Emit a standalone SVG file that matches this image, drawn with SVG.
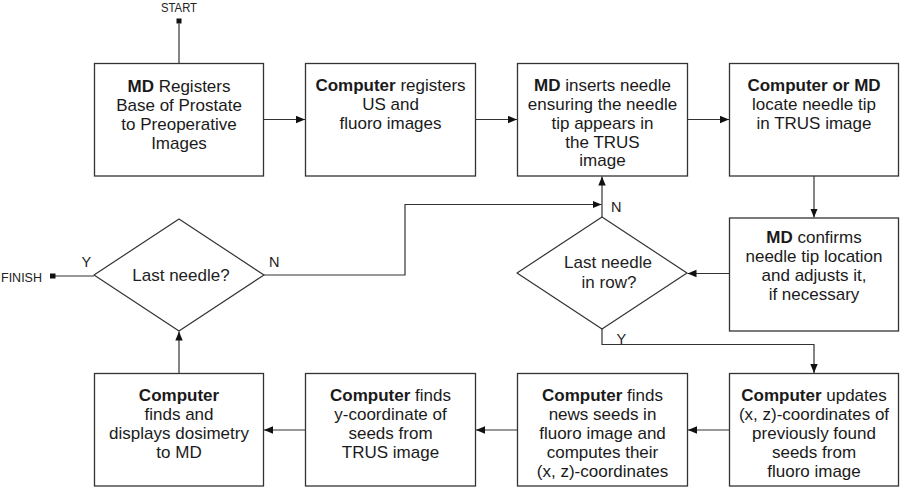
<svg xmlns="http://www.w3.org/2000/svg" width="901" height="489" viewBox="0 0 901 489">
<style>
.box{fill:#fff;stroke:#333;stroke-width:1.3}
.dia{fill:#fff;stroke:#333;stroke-width:1.2;stroke-linejoin:round}
.t{font-family:"Liberation Sans",Arial,sans-serif;font-size:17px;fill:#1a1a1a;text-anchor:middle}
.b{font-weight:bold}
.dt{font-family:"Liberation Sans",Arial,sans-serif;font-size:17px;fill:#222;text-anchor:middle}
.lbl{font-family:"Liberation Sans",Arial,sans-serif;font-size:14.5px;fill:#222}
.term{font-family:"Liberation Sans",Arial,sans-serif;font-size:12.5px;fill:#222}
.c{fill:none;stroke:#333;stroke-width:1.2}
.sq{fill:#111}
</style>
<defs>
<marker id="ah" markerUnits="userSpaceOnUse" markerWidth="10" markerHeight="9" refX="9" refY="4" orient="auto">
<path d="M0,0.3 L9,4 L0,7.7 z" fill="#111"/>
</marker>
</defs>
<rect width="901" height="489" fill="#fff"/>
<g id="connectors">
<rect class="sq" x="176.5" y="18.5" width="5" height="5"/>
<path class="c" d="M179,23.5 V63.5"/>
<path class="c" d="M263.5,119.5 H305" marker-end="url(#ah)"/>
<path class="c" d="M475.5,119.5 H517" marker-end="url(#ah)"/>
<path class="c" d="M687.5,119.5 H729" marker-end="url(#ah)"/>
<path class="c" d="M814,176 V217.5" marker-end="url(#ah)"/>
<path class="c" d="M729.5,273.5 H687.5" marker-end="url(#ah)"/>
<path class="c" d="M602,217 V176.5" marker-end="url(#ah)"/>
<path class="c" d="M264,275 H405 V204.5 H601.5" marker-end="url(#ah)"/>
<path class="c" d="M602,329 V344.5 H814 V373" marker-end="url(#ah)"/>
<path class="c" d="M729.5,430 H688" marker-end="url(#ah)"/>
<path class="c" d="M517.5,430 H476" marker-end="url(#ah)"/>
<path class="c" d="M305.5,430 H264" marker-end="url(#ah)"/>
<path class="c" d="M179,373.5 V331.5" marker-end="url(#ah)"/>
<path class="c" d="M94,276 H55"/>
<rect class="sq" x="50" y="273.5" width="5.5" height="5"/>
<text class="term" x="179" y="12" text-anchor="middle" textLength="36" lengthAdjust="spacingAndGlyphs">START</text>
<text class="term" x="1" y="281.5" textLength="41" lengthAdjust="spacingAndGlyphs">FINISH</text>
<text class="lbl" x="81.5" y="267">Y</text>
<text class="lbl" x="269" y="267">N</text>
<text class="lbl" x="611" y="212">N</text>
<text class="lbl" x="616.5" y="344">Y</text>
</g>
<g id="n1">
<rect class="box" x="94.5" y="63.5" width="169" height="112.5"/>
<text class="t" x="179" y="92"><tspan class="b">MD</tspan> Registers</text>
<text class="t" x="179" y="111">Base of Prostate</text>
<text class="t" x="179" y="130">to Preoperative</text>
<text class="t" x="179" y="149">Images</text>
</g>
<g id="n2">
<rect class="box" x="305.5" y="63.5" width="170" height="112.5"/>
<text class="t" x="390.5" y="91"><tspan class="b">Computer</tspan> registers</text>
<text class="t" x="390.5" y="110">US and</text>
<text class="t" x="390.5" y="129">fluoro images</text>
</g>
<g id="n3">
<rect class="box" x="517.5" y="63.5" width="170" height="112.5"/>
<text class="t" x="602.5" y="91"><tspan class="b">MD</tspan> inserts needle</text>
<text class="t" x="602.5" y="110">ensuring the needle</text>
<text class="t" x="602.5" y="129">tip appears in</text>
<text class="t" x="602.5" y="148">the TRUS</text>
<text class="t" x="602.5" y="166">image</text>
</g>
<g id="n4">
<rect class="box" x="729.5" y="63.5" width="169" height="112.5"/>
<text class="t" x="814" y="91"><tspan class="b">Computer or MD</tspan></text>
<text class="t" x="814" y="110">locate needle tip</text>
<text class="t" x="814" y="129">in TRUS image</text>
</g>
<g id="n5">
<rect class="box" x="729.5" y="218" width="169" height="113"/>
<text class="t" x="814" y="243"><tspan class="b">MD</tspan> confirms</text>
<text class="t" x="814" y="262">needle tip location</text>
<text class="t" x="814" y="281">and adjusts it,</text>
<text class="t" x="814" y="300">if necessary</text>
</g>
<g id="d2">
<polygon class="dia" points="602,217 687,273 602,329 517,273"/>
<text class="dt" x="608" y="268">Last needle</text>
<text class="dt" x="609" y="288">in row?</text>
</g>
<g id="d1">
<polygon class="dia" points="179,219 264,275 179,331 94,275"/>
<text class="dt" x="181" y="281">Last needle?</text>
</g>
<g id="nA">
<rect class="box" x="94.5" y="373.5" width="169" height="112.5"/>
<text class="t" x="179" y="401"><tspan class="b">Computer</tspan></text>
<text class="t" x="179" y="420">finds and</text>
<text class="t" x="179" y="439">displays dosimetry</text>
<text class="t" x="179" y="458">to MD</text>
</g>
<g id="nB">
<rect class="box" x="305.5" y="373.5" width="170" height="112.5"/>
<text class="t" x="390.5" y="401"><tspan class="b">Computer</tspan> finds</text>
<text class="t" x="390.5" y="420">y-coordinate of</text>
<text class="t" x="390.5" y="439">seeds from</text>
<text class="t" x="390.5" y="458">TRUS image</text>
</g>
<g id="nC">
<rect class="box" x="517.5" y="373.5" width="170" height="112.5"/>
<text class="t" x="602.5" y="401"><tspan class="b">Computer</tspan> finds</text>
<text class="t" x="602.5" y="420">news seeds in</text>
<text class="t" x="602.5" y="439">fluoro image and</text>
<text class="t" x="602.5" y="458">computes their</text>
<text class="t" x="602.5" y="477">(x, z)-coordinates</text>
</g>
<g id="nD">
<rect class="box" x="729.5" y="373.5" width="169" height="112.5"/>
<text class="t" x="814" y="401"><tspan class="b">Computer</tspan> updates</text>
<text class="t" x="814" y="420">(x, z)-coordinates of</text>
<text class="t" x="814" y="439">previously found</text>
<text class="t" x="814" y="458">seeds from</text>
<text class="t" x="814" y="477">fluoro image</text>
</g>
</svg>
